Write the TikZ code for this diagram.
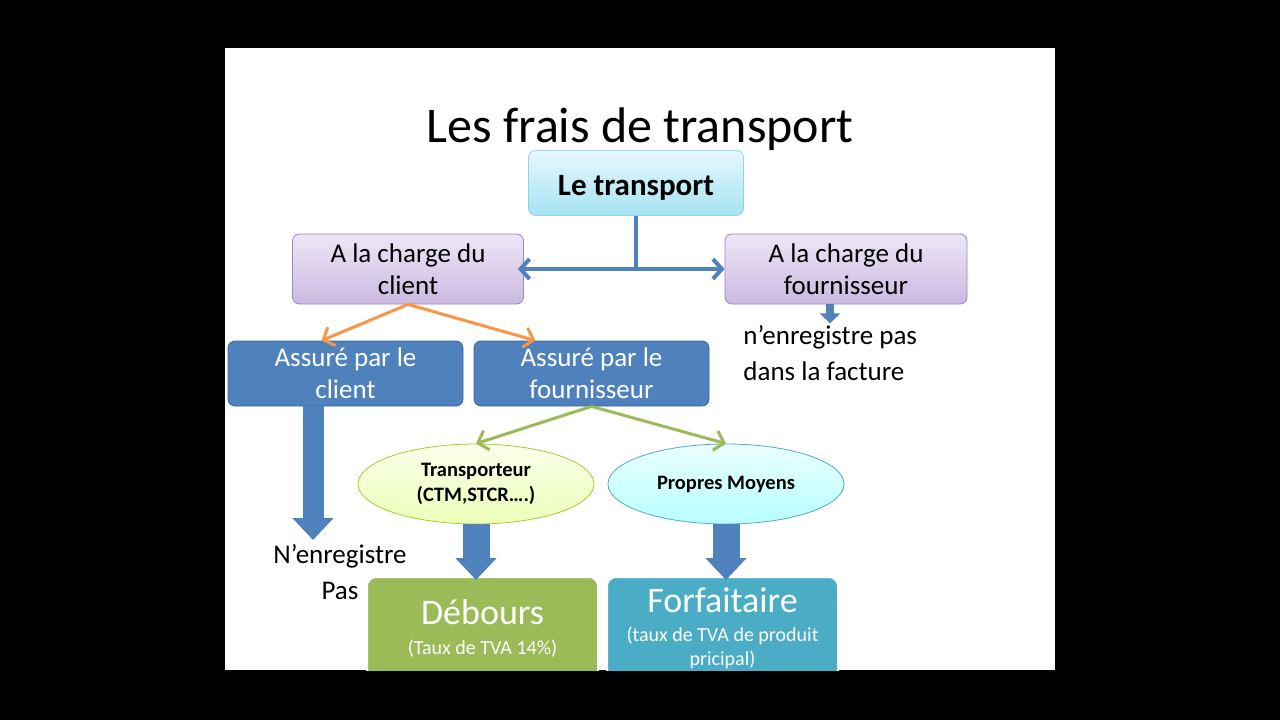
\documentclass[tikz,border=0pt]{standalone}
\usepackage{fontspec}
\setmainfont{Carlito}
\usetikzlibrary{positioning,arrows.meta,shapes.geometric}
\definecolor{ink}{HTML}{000000}
\definecolor{flow}{HTML}{4F81BD}
\definecolor{flowdark}{HTML}{3A679E}
\definecolor{orange}{HTML}{F79646}
\definecolor{green}{HTML}{9BBB59}
\definecolor{teal}{HTML}{4BACC6}
\definecolor{lilac}{HTML}{9A86BE}
\definecolor{lavtop}{HTML}{EEE7F6}
\definecolor{lavbot}{HTML}{CBB9E1}
\definecolor{sky}{HTML}{8FD3E6}
\definecolor{skytop}{HTML}{E6F8FD}
\definecolor{skybot}{HTML}{A6E3F3}
\newcommand{\fs}[1]{\fontsize{#1}{1.22\dimexpr#1pt\relax}\selectfont}

\begin{document}
\begin{tikzpicture}[x=1pt,y=-1pt, every node/.style={text=ink}, line width=0.8pt,
  >={Straight Barb[length=9pt,width=20pt]},
  headbox/.style={draw=sky, rounded corners=7pt, top color=skytop, bottom color=skybot,
    minimum width=215, minimum height=65, text height=30pt, text depth=6pt, font=\fs{31}\bfseries},
  chargebox/.style={draw=lilac, rounded corners=7pt, top color=lavtop, bottom color=lavbot,
    minimum width=#1, minimum height=70, align=center, font=\fs{27}},
  assurebox/.style={draw=flowdark, fill=flow, rounded corners=7pt, text=white,
    minimum width=235, minimum height=65, align=center, font=\fs{27}},
  oval/.style={ellipse, draw=#1!60!gray, top color=#1!8, bottom color=#1!28,
    minimum width=236, minimum height=80, align=center, font=\fs{20.5}\bfseries},
  resbox/.style={draw=white, line width=2pt, rounded corners=9pt, fill=#1, text=white,
    minimum width=231, minimum height=103, align=center, font=\fs{20}},
  plain/.style={align=center, font=\fs{27}, inner sep=0pt},
  fork/.style={draw=flow, line width=4pt},
  bigarrow/.style={draw=flow, line width=#1, -{Triangle[length=22pt,width=40pt]}}]
% ---- slide on black ground
\fill[black] (0,0) rectangle (1280,720);
\useasboundingbox (0,0) rectangle (1280,720);
\fill[white] (225,48) rectangle (1055,670);
\node[font=\fs{50}, inner sep=0pt] (title) at (640,129) {Les frais de transport};
% ---- top: who pays
\node[headbox] (transport) at (636,183) {Le transport};
\node[chargebox=231] (cclient) at (408,269) {A la charge du\\[-1pt]client};
\node[chargebox=242] (cfourn) at (846,269) {A la charge du\\[-1pt]fournisseur};
\coordinate (split) at (transport.south |- cclient.east);
\draw[fork] (transport.south) -- (split);
\draw[fork, ->] (split) -- ([xshift=-6pt]cclient.east);
\draw[fork, ->] (split) -- (cfourn.west);
\node[plain, align=left, anchor=north west] (nopas) at (743,325) {n’enregistre pas\\[3pt]dans la facture};
\draw[draw=flow, line width=8pt, -{Triangle[length=10pt,width=20pt]}] ([xshift=-16pt]cfourn.south) -- ++(0,19);
% ---- middle: who carries
\node[assurebox] (aclient) at (345.5,373.5) {Assuré par le\\[-1pt]client};
\node[assurebox] (afourn) at (591.5,373.5) {Assuré par le\\[-1pt]fournisseur};
\draw[draw=orange, line width=3pt, ->] (cclient.south) -- ([xshift=-24pt]aclient.north);
\draw[draw=orange, line width=3pt, ->] (cclient.south) -- ([xshift=-56pt]afourn.north);
\node[plain] (nenreg) at (340,572) {N’enregistre\\[3pt]Pas};
\coordinate (tipA) at (313,540);
\draw[bigarrow=21pt] (aclient.south -| tipA) -- (tipA);
% ---- bottom: carrier or own means
\node[oval=lime] (carrier) at (476,484) {Transporteur\\[0pt](CTM,STCR….)};
\node[oval=cyan] (ownmeans) at (726,484) {Propres Moyens};
\draw[draw=green, line width=3pt, ->] (afourn.south) -- (carrier.north);
\draw[draw=green, line width=3pt, ->] (afourn.south) -- (ownmeans.north);
\begin{scope}
\clip (225,48) rectangle (1055,670);
\node[resbox=green] (debours) at (482.5,628.5)
  {{\fs{36}Débours}\\[6pt](Taux de TVA 14\%)};
\node[resbox=teal] (forfait) at (722.5,628.5)
  {{\fs{36}Forfaitaire}\\[4pt](taux de TVA de produit\\pricipal)};
\end{scope}
\draw[bigarrow=27pt] (carrier.south) -- ([yshift=-4pt]debours.north -| carrier.south);
\draw[bigarrow=27pt] (ownmeans.south) -- ([yshift=-4pt]forfait.north -| ownmeans.south);
\end{tikzpicture}
\end{document}
